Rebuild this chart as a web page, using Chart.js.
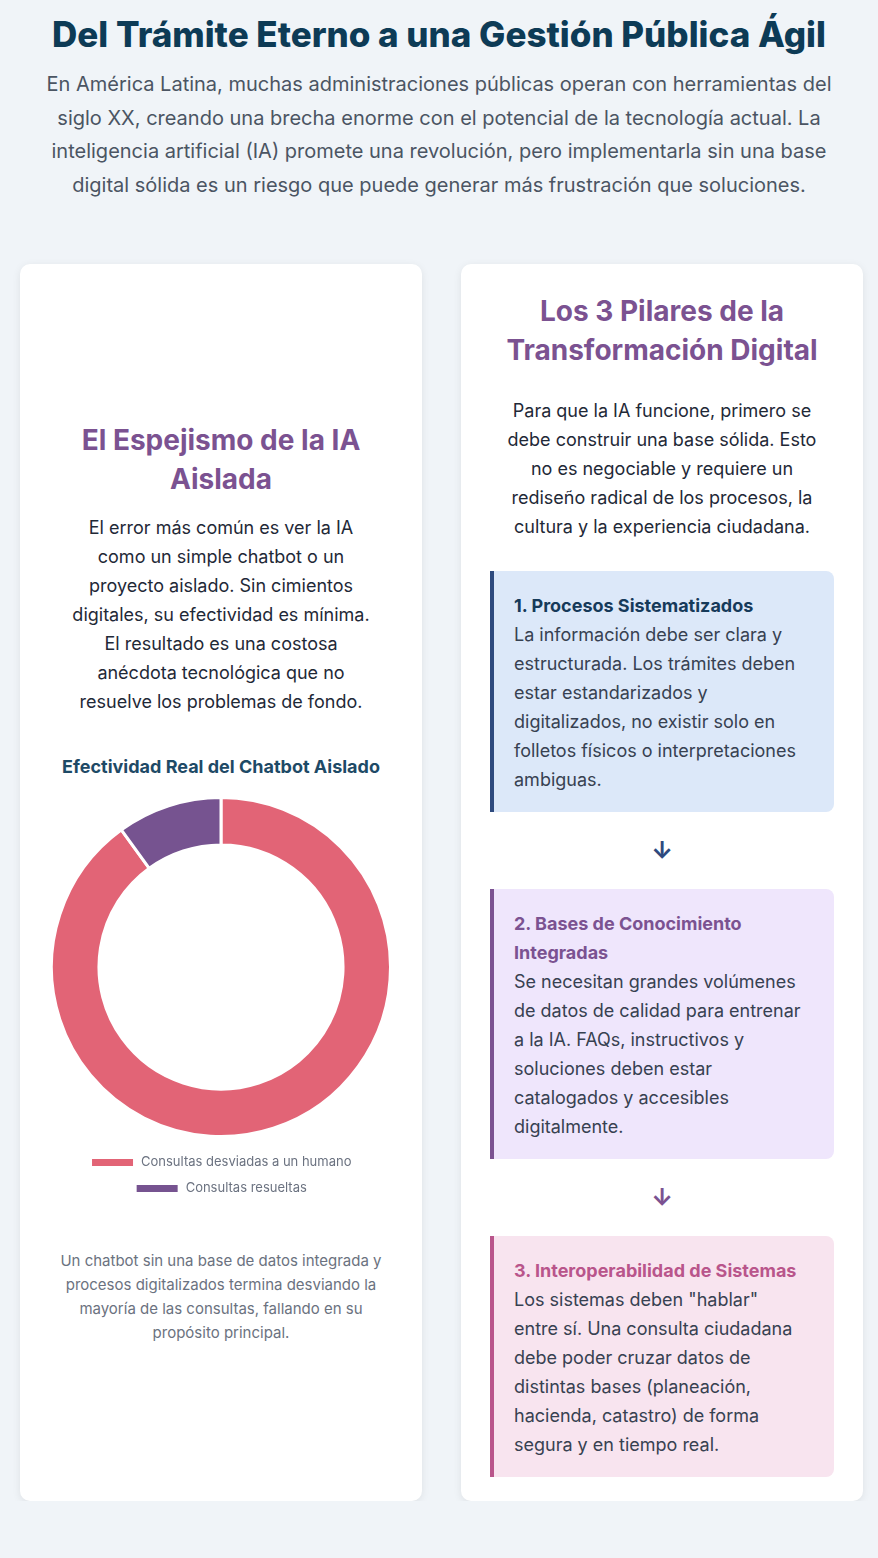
<!DOCTYPE html>
<html><head><meta charset="utf-8">
<script src="https://cdn.jsdelivr.net/npm/chart.js@4/dist/chart.umd.min.js"></script>
<style>
*{box-sizing:border-box}
body{margin:0;background:#f0f4f8;font-family:Inter,"Noto Sans",sans-serif;color:#1f2937;width:878px}
header{text-align:center;padding:12px 26px 0}
h1{margin:0;font-size:35px;font-weight:800;color:#0d3b56;line-height:44px}
header p{margin:12px 0 0;font-size:20px;line-height:33.5px;color:#4b5563;padding:0 4px}
.grid{display:flex;gap:39px;padding:0 15px 0 20px;margin-top:62px}
.card{background:#fff;border-radius:10px;box-shadow:0 2px 8px rgba(0,0,0,.08);width:402px;height:1237px;padding:30px 29px}
.left{display:flex;flex-direction:column;justify-content:center;align-items:center;text-align:center}
h2{margin:0;font-size:28px;font-weight:700;color:#7b5291;line-height:39px;text-align:center}
.txt{font-size:18px;line-height:29px;color:#1f2937}
.cap{font-size:15px;line-height:24px;color:#6b7280;margin-top:38px;padding:0 0}
h3{margin:40px 0 0;font-size:18px;font-weight:700;color:#1e4a66}
.box{border-left:4px solid;border-radius:0 8px 8px 0;padding:20px 30px 18px 20px;font-size:18px;line-height:29px;color:#374151}
.box b{display:block}
.arrow{text-align:center;font-size:24px;height:77px;line-height:77px;font-weight:700}
</style></head><body>
<header>
<h1>Del Trámite Eterno a una Gestión Pública Ágil</h1>
<p>En América Latina, muchas administraciones públicas operan con herramientas del siglo XX, creando una brecha enorme con el potencial de la tecnología actual. La inteligencia artificial (IA) promete una revolución, pero implementarla sin una base digital sólida es un riesgo que puede generar más frustración que soluciones.</p>
</header>
<div class="grid">
<div class="card left">
<h2>El Espejismo de la IA<br>Aislada</h2>
<div class="txt" style="margin-top:14px;padding:0 14px">El error más común es ver la IA como un simple chatbot o un proyecto aislado. Sin cimientos digitales, su efectividad es mínima. El resultado es una costosa anécdota tecnológica que no resuelve los problemas de fondo.</div>
<h3>Efectividad Real del Chatbot Aislado</h3>
<div style="position:relative;width:342px;height:420px;margin-top:14px"><canvas id="c"></canvas></div>
<div class="cap">Un chatbot sin una base de datos integrada y procesos digitalizados termina desviando la mayoría de las consultas, fallando en su propósito principal.</div>
</div>
<div class="card" style="padding-top:28px">
<h2>Los 3 Pilares de la<br>Transformación Digital</h2>
<div class="txt" style="text-align:center;margin-top:26px;padding:0 6px">Para que la IA funcione, primero se debe construir una base sólida. Esto no es negociable y requiere un rediseño radical de los procesos, la cultura y la experiencia ciudadana.</div>
<div class="box" style="margin-top:30px;background:#dce8f9;border-color:#2e4a7e"><b style="color:#163a5a">1. Procesos Sistematizados</b>La información debe ser clara y estructurada. Los trámites deben estar estandarizados y digitalizados, no existir solo en folletos físicos o interpretaciones ambiguas.</div>
<div class="arrow" style="color:#2e4a7e">↓</div>
<div class="box" style="background:#efe6fc;border-color:#7b5291"><b style="color:#7b5291">2. Bases de Conocimiento Integradas</b>Se necesitan grandes volúmenes de datos de calidad para entrenar a la IA. FAQs, instructivos y soluciones deben estar catalogados y accesibles digitalmente.</div>
<div class="arrow" style="color:#7b5291">↓</div>
<div class="box" style="background:#f8e4ef;border-color:#b9558b"><b style="color:#b9558b">3. Interoperabilidad de Sistemas</b>Los sistemas deben "hablar" entre sí. Una consulta ciudadana debe poder cruzar datos de distintas bases (planeación, hacienda, catastro) de forma segura y en tiempo real.</div>
</div>
</div>
<script>
const labels=["Consultas desviadas a un humano","Consultas resueltas"];
const values=[90,10];
const colors=["#e26476","#765390"];
new Chart(document.getElementById('c'),{type:'doughnut',
data:{labels:labels,datasets:[{data:values,backgroundColor:colors,borderColor:'#fff',borderWidth:3}]},
options:{responsive:true,maintainAspectRatio:false,cutout:'72%',animation:false,layout:{padding:{bottom:6}},
plugins:{legend:{position:'bottom',labels:{boxWidth:44,boxHeight:10,font:{family:'Inter',size:13},color:'#6b7280',padding:13}},tooltip:{enabled:false}}}});
</script>
</body></html>
